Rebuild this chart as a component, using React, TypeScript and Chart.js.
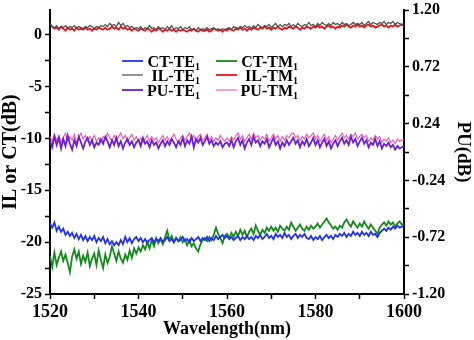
import React, { useEffect, useRef } from "react";
import { Chart, registerables } from "chart.js";

Chart.register(...registerables);

const X_START = 1520;
const X_STEP = 0.5;

const ctTE = [
  -18.2,-18.6,-18.1,-18.9,-18.5,-19.0,-18.7,-19.3,-19.0,-19.4,
  -19.1,-19.6,-19.2,-19.7,-19.3,-19.8,-19.4,-19.9,-19.5,-19.8,
  -19.4,-20.0,-19.6,-19.9,-19.5,-20.1,-19.7,-20.2,-19.9,-20.3,
  -20.0,-20.3,-19.8,-20.2,-19.5,-20.0,-19.6,-20.1,-19.7,-19.5,
  -19.9,-19.6,-20.0,-19.7,-20.1,-19.8,-19.6,-20.0,-19.7,-19.9,
  -19.6,-20.0,-19.8,-19.5,-19.9,-19.7,-20.0,-19.6,-19.9,-19.8,
  -19.5,-19.9,-19.7,-20.0,-19.6,-19.9,-19.7,-19.5,-19.9,-19.6,
  -19.8,-19.5,-19.9,-19.6,-19.8,-19.4,-19.7,-19.5,-19.3,-19.6,
  -19.4,-19.7,-19.5,-19.8,-19.6,-19.4,-19.8,-19.5,-19.7,-19.4,
  -19.7,-19.5,-19.8,-19.4,-19.6,-19.3,-19.7,-19.5,-19.2,-19.6,
  -19.4,-19.7,-19.2,-19.5,-19.3,-19.6,-19.1,-19.5,-19.3,-19.7,
  -19.4,-19.2,-19.6,-19.3,-19.5,-19.2,-19.6,-19.7,-19.4,-19.8,
  -19.5,-19.7,-19.4,-19.8,-19.5,-19.3,-19.6,-19.4,-19.7,-19.3,
  -19.5,-19.2,-19.4,-19.1,-19.5,-19.2,-19.4,-19.0,-19.3,-19.1,
  -19.4,-19.0,-19.3,-19.1,-19.4,-19.0,-19.3,-19.2,-19.5,-19.1,
  -18.9,-18.7,-18.9,-18.6,-18.8,-18.5,-18.7,-18.4,-18.6,-18.5,
  -18.4,
];

const ctTM = [
  -21.3,-22.4,-21.0,-22.2,-21.5,-20.9,-21.8,-21.2,-22.0,-22.9,
  -21.4,-20.7,-21.6,-20.9,-22.1,-21.3,-21.9,-21.0,-22.3,-21.6,
  -21.1,-22.2,-20.8,-21.7,-22.5,-21.2,-22.0,-21.4,-20.4,-21.1,
  -21.8,-20.9,-21.6,-22.0,-21.2,-21.7,-20.8,-21.5,-20.6,-21.1,
  -20.5,-20.9,-20.3,-20.7,-20.0,-20.6,-19.8,-20.4,-19.6,-20.1,
  -19.7,-20.2,-19.5,-18.9,-19.8,-19.4,-20.0,-19.6,-19.9,-19.5,
  -20.0,-19.7,-20.3,-19.8,-20.4,-20.1,-20.6,-20.9,-20.2,-19.8,
  -19.6,-19.9,-19.5,-19.8,-19.3,-18.6,-19.2,-19.6,-20.1,-19.4,
  -19.2,-19.6,-19.1,-19.5,-19.0,-19.4,-18.8,-19.3,-18.9,-19.5,
  -19.0,-18.7,-19.2,-18.4,-18.9,-19.3,-18.8,-19.1,-18.6,-18.9,
  -18.5,-18.9,-18.6,-19.0,-18.4,-18.7,-18.9,-18.5,-18.8,-18.1,
  -18.5,-18.9,-18.6,-18.3,-18.7,-18.9,-18.5,-18.8,-18.4,-18.7,
  -18.5,-18.2,-18.6,-18.3,-18.0,-17.7,-18.1,-18.4,-18.7,-18.5,
  -18.8,-18.4,-18.6,-18.1,-17.8,-18.2,-18.5,-18.0,-18.3,-18.6,
  -18.2,-18.5,-18.0,-18.4,-18.7,-18.3,-18.6,-18.9,-19.2,-18.6,
  -18.3,-18.1,-18.4,-18.0,-18.3,-18.1,-18.5,-18.2,-18.0,-18.3,
  -18.2,
];

const ilTE = [
  1.0,0.8,0.7,0.9,0.6,0.8,0.7,0.9,0.6,0.8,
  0.7,0.9,0.6,0.8,0.7,0.6,0.8,0.7,0.9,0.8,
  0.6,0.8,0.7,0.9,0.8,1.0,0.8,1.1,0.9,1.0,
  0.8,1.2,0.9,1.1,0.8,0.9,0.7,0.8,0.6,0.7,
  0.6,0.8,0.5,0.7,0.6,0.9,0.6,0.7,0.5,0.8,
  0.6,0.7,0.5,0.8,0.6,0.9,0.5,0.7,0.6,0.8,
  0.5,0.7,0.6,0.8,0.5,0.6,0.4,0.7,0.5,0.6,
  0.5,0.7,0.5,0.6,0.7,0.5,0.6,0.4,0.6,0.5,
  0.6,0.7,0.5,0.8,0.7,0.6,0.8,0.7,0.9,0.7,
  0.8,0.6,0.9,0.7,1.0,0.8,0.7,0.9,0.8,1.0,
  0.7,0.9,1.1,0.8,1.0,0.8,1.0,0.9,1.1,0.8,
  1.0,0.8,1.1,0.9,0.8,1.0,0.9,1.2,0.9,1.0,
  0.8,1.1,0.9,1.2,1.0,0.9,1.1,0.9,1.2,1.0,
  1.1,0.9,1.2,1.0,1.1,0.9,1.0,1.2,1.0,1.1,
  1.0,1.2,0.9,1.1,1.3,1.0,1.2,1.1,1.0,1.2,
  1.1,1.3,1.0,1.2,1.1,1.3,1.0,1.2,1.1,1.0,
  1.1,
];

const ilTM = [
  1.1,0.8,0.6,0.7,0.5,0.8,0.6,0.4,0.7,0.5,
  0.6,0.4,0.7,0.5,0.6,0.5,0.7,0.5,0.6,0.4,
  0.6,0.5,0.7,0.6,0.5,0.7,0.5,0.6,0.8,0.6,
  0.7,0.5,0.8,0.6,0.7,0.5,0.6,0.4,0.6,0.5,
  0.4,0.6,0.5,0.4,0.6,0.5,0.3,0.5,0.4,0.6,
  0.5,0.3,0.5,0.4,0.6,0.4,0.5,0.3,0.5,0.4,
  0.5,0.4,0.3,0.5,0.4,0.6,0.4,0.3,0.5,0.4,
  0.4,0.5,0.3,0.4,0.6,0.5,0.4,0.5,0.3,0.5,
  0.4,0.6,0.5,0.4,0.6,0.5,0.7,0.5,0.6,0.4,
  0.6,0.5,0.7,0.6,0.5,0.7,0.6,0.8,0.6,0.7,
  0.5,0.7,0.6,0.8,0.6,0.5,0.7,0.6,0.8,0.7,
  0.6,0.8,0.7,0.5,0.7,0.6,0.8,0.7,0.6,0.8,
  0.7,0.9,0.7,0.8,0.6,0.8,0.9,0.7,0.8,0.6,
  0.8,0.7,0.9,0.8,1.0,0.8,0.7,0.9,0.8,1.0,
  0.8,0.9,0.7,0.9,1.0,0.8,0.9,0.7,0.8,0.9,
  1.0,0.8,0.9,0.7,0.9,0.8,1.0,0.8,0.9,1.0,
  0.8,
];

const puTE = [
  0.10,0.04,0.13,0.06,0.12,0.03,0.11,0.05,0.14,0.07,
  0.02,0.10,0.05,0.13,0.08,0.03,0.09,0.12,0.06,0.10,
  0.04,0.08,0.06,0.11,0.07,0.13,0.09,0.04,0.10,0.06,
  0.12,0.05,0.09,0.03,0.08,0.11,0.06,0.09,0.04,0.08,
  0.10,0.05,0.12,0.07,0.09,0.04,0.10,0.06,0.08,0.03,
  0.07,0.10,0.05,0.09,0.06,0.11,0.08,0.04,0.09,0.06,
  0.12,0.05,0.10,0.07,0.13,0.04,0.11,0.08,0.12,0.06,
  0.09,0.13,0.07,0.10,0.05,0.08,0.06,0.09,0.04,0.07,
  0.08,0.05,0.10,0.04,0.09,0.12,0.06,0.10,0.03,0.08,
  0.11,0.06,0.13,0.08,0.10,0.05,0.09,0.07,0.11,0.04,
  0.08,0.12,0.06,0.09,0.03,0.08,0.05,0.10,0.06,0.09,
  0.12,0.07,0.10,0.04,0.09,0.06,0.11,0.05,0.08,0.12,
  0.06,0.10,0.04,0.08,0.11,0.05,0.09,0.03,0.07,0.10,
  0.05,0.09,0.12,0.07,0.10,0.06,0.13,0.08,0.11,0.05,
  0.09,0.12,0.07,0.10,0.04,0.08,0.06,0.11,0.05,0.09,
  0.03,0.07,0.05,0.08,0.04,0.06,0.02,0.05,0.03,0.04,
  0.05,
];

const puTM = [
  0.13,0.09,0.15,0.10,0.14,0.08,0.12,0.16,0.09,0.13,
  0.10,0.15,0.08,0.12,0.16,0.11,0.14,0.09,0.13,0.10,
  0.14,0.09,0.12,0.08,0.13,0.11,0.16,0.12,0.09,0.14,
  0.10,0.13,0.16,0.11,0.14,0.08,0.12,0.15,0.10,0.13,
  0.09,0.12,0.08,0.11,0.14,0.09,0.13,0.10,0.12,0.08,
  0.11,0.14,0.10,0.13,0.09,0.12,0.15,0.11,0.08,0.12,
  0.14,0.10,0.13,0.16,0.11,0.14,0.09,0.13,0.15,0.10,
  0.12,0.15,0.10,0.13,0.09,0.12,0.10,0.14,0.11,0.09,
  0.12,0.09,0.13,0.10,0.14,0.16,0.11,0.14,0.09,0.12,
  0.15,0.11,0.16,0.12,0.14,0.10,0.13,0.11,0.15,0.09,
  0.12,0.15,0.11,0.14,0.09,0.13,0.10,0.14,0.12,0.15,
  0.16,0.12,0.14,0.10,0.13,0.11,0.15,0.12,0.14,0.16,
  0.11,0.14,0.09,0.12,0.15,0.10,0.13,0.08,0.11,0.14,
  0.10,0.13,0.16,0.12,0.14,0.11,0.15,0.13,0.16,0.11,
  0.13,0.15,0.12,0.14,0.09,0.12,0.10,0.14,0.11,0.13,
  0.08,0.11,0.09,0.12,0.08,0.10,0.07,0.11,0.09,0.10,
  0.10,
];

const xTicks = [1520, 1530, 1540, 1550, 1560, 1570, 1580, 1590, 1600];
const xLabelTicks = [1520, 1540, 1560, 1580, 1600];
const leftTicks = [-25, -22.5, -20, -17.5, -15, -12.5, -10, -7.5, -5, -2.5, 0];
const leftLabelTicks = [-25, -20, -15, -10, -5, 0];
const rightTicks = [-1.2, -0.96, -0.72, -0.48, -0.24, 0, 0.24, 0.48, 0.72, 0.96, 1.2];
const rightLabelTicks = [-1.2, -0.72, -0.24, 0.24, 0.72, 1.2];

const FONT = "'Liberation Serif', 'Times New Roman', serif";

const toPoints = (arr: number[]) =>
  arr.map((y, i) => ({ x: X_START + i * X_STEP, y }));

const near = (list: number[], v: number) => list.some((t) => Math.abs(t - v) < 1e-6);

const legendPlugin = {
  id: "insideLegend",
  afterDraw(chart: any) {
    const ctx = chart.ctx;
    const a = chart.chartArea;
    const order = [
      [0, 1],
      [2, 3],
      [4, 5],
    ];
    const rowsY = [51, 65, 80];
    const cols = [
      { lineX0: 72, lineX1: 93, textRight: 150 },
      { lineX0: 166, lineX1: 187, textRight: 248 },
    ];
    ctx.save();
    order.forEach((row, r) => {
      row.forEach((dsIndex, c) => {
        const ds = chart.data.datasets[dsIndex];
        const col = cols[c];
        const y = a.top + rowsY[r];
        ctx.strokeStyle = ds.borderColor;
        ctx.lineWidth = ds.borderWidth;
        ctx.beginPath();
        ctx.moveTo(a.left + col.lineX0, y);
        ctx.lineTo(a.left + col.lineX1, y);
        ctx.stroke();
        const main = ds.label.slice(0, -1);
        const sub = "1";
        ctx.font = `bold 16px ${FONT}`;
        const wMain = ctx.measureText(main).width;
        ctx.font = `bold 10px ${FONT}`;
        const wSub = ctx.measureText(sub).width;
        const x0 = a.left + col.textRight - wMain - wSub;
        ctx.fillStyle = "#000";
        ctx.textBaseline = "alphabetic";
        ctx.textAlign = "left";
        ctx.font = `bold 16px ${FONT}`;
        ctx.fillText(main, x0, y + 5.5);
        ctx.font = `bold 10px ${FONT}`;
        ctx.fillText(sub, x0 + wMain, y + 8.5);
      });
    });
    ctx.restore();
  },
};

export default function App() {
  const ref = useRef<HTMLCanvasElement | null>(null);

  useEffect(() => {
    document.body.style.margin = "0";
    const canvas = ref.current;
    if (!canvas) return;
    const common = {
      pointRadius: 0,
      fill: false,
      tension: 0,
    };
    const chart = new Chart(canvas, {
      type: "line",
      data: {
        datasets: [
          { ...common, label: "CT-TE₁", data: toPoints(ctTE), borderColor: "#2233ee", borderWidth: 1.8, yAxisID: "y" },
          { ...common, label: "CT-TM₁", data: toPoints(ctTM), borderColor: "#15891a", borderWidth: 1.8, yAxisID: "y" },
          { ...common, label: "IL-TE₁", data: toPoints(ilTE), borderColor: "#4a4a4a", borderWidth: 1.2, yAxisID: "y" },
          { ...common, label: "IL-TM₁", data: toPoints(ilTM), borderColor: "#e8141e", borderWidth: 1.8, yAxisID: "y" },
          { ...common, label: "PU-TE₁", data: toPoints(puTE), borderColor: "#6a1ed6", borderWidth: 1.8, yAxisID: "y1" },
          { ...common, label: "PU-TM₁", data: toPoints(puTM), borderColor: "#f052b4", borderWidth: 1.1, yAxisID: "y1" },
        ],
      },
      options: {
        animation: false,
        responsive: false,
        maintainAspectRatio: false,
        layout: { padding: { left: 0, right: 0, top: 10, bottom: 0 } },
        plugins: {
          legend: { display: false },
          tooltip: { enabled: false },
        },
        scales: {
          x: {
            type: "linear",
            min: 1520,
            max: 1600,
            afterBuildTicks: (s: any) => {
              s.ticks = xTicks.map((v) => ({ value: v }));
            },
            afterFit: (s: any) => {
              s.height = 46;
              s.paddingLeft = 0;
              s.paddingRight = 0;
            },
            ticks: {
              autoSkip: false,
              maxRotation: 0,
              padding: 3,
              color: "#000",
              font: { family: FONT, size: 18, weight: "bold" },
              callback: (v: any) => (near(xLabelTicks, Number(v)) ? String(v) : ""),
            },
            grid: {
              drawOnChartArea: false,
              drawTicks: true,
              tickLength: 5,
              tickWidth: 1.5,
              tickColor: "#000",
            },
            border: { color: "#000", width: 2 },
            title: {
              display: true,
              text: "Wavelength(nm)",
              color: "#000",
              font: { family: FONT, size: 18, weight: "bold", lineHeight: 1.2 },
              padding: { top: 0, bottom: 0 },
            },
          },
          y: {
            type: "linear",
            position: "left",
            min: -25,
            max: 2.4,
            afterBuildTicks: (s: any) => {
              s.ticks = leftTicks.map((v) => ({ value: v }));
            },
            afterFit: (s: any) => {
              s.width = 50;
              s.paddingTop = 0;
              s.paddingBottom = 0;
            },
            ticks: {
              autoSkip: false,
              padding: 3,
              color: "#000",
              font: { family: FONT, size: 16, weight: "bold" },
              callback: (v: any) => (near(leftLabelTicks, Number(v)) ? String(v) : ""),
            },
            grid: {
              drawOnChartArea: false,
              tickLength: 5,
              tickWidth: 1.5,
              tickColor: "#000",
            },
            border: { color: "#000", width: 2 },
            title: {
              display: true,
              text: "IL or CT(dB)",
              color: "#000",
              font: { family: FONT, size: 20, weight: "bold", lineHeight: 1.1 },
              padding: { top: 0, bottom: 0 },
            },
          },
          y1: {
            type: "linear",
            position: "right",
            min: -1.2,
            max: 1.2,
            afterBuildTicks: (s: any) => {
              s.ticks = rightTicks.map((v) => ({ value: v }));
            },
            afterFit: (s: any) => {
              s.width = 70;
              s.paddingTop = 0;
              s.paddingBottom = 0;
            },
            ticks: {
              autoSkip: false,
              padding: 3,
              color: "#000",
              font: { family: FONT, size: 16, weight: "bold" },
              callback: (v: any) => (near(rightLabelTicks, Number(v)) ? Number(v).toFixed(2) : ""),
            },
            grid: {
              drawOnChartArea: false,
              tickLength: 5,
              tickWidth: 1.5,
              tickColor: "#000",
            },
            border: { color: "#000", width: 2 },
            title: {
              display: true,
              text: "PU(dB)",
              color: "#000",
              font: { family: FONT, size: 19, weight: "bold", lineHeight: 1.2 },
              padding: { top: 0, bottom: 0 },
            },
          },
        },
      } as any,
      plugins: [legendPlugin],
    });
    return () => chart.destroy();
  }, []);

  return (
    <div style={{ width: 474, height: 340, background: "#fff" }}>
      <canvas ref={ref} width={474} height={340} style={{ display: "block" }} />
    </div>
  );
}
